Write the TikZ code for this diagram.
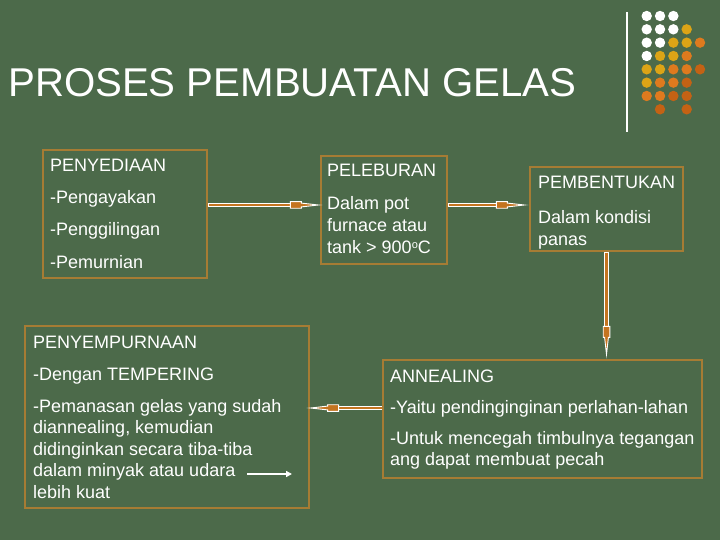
\documentclass[tikz,border=0pt]{standalone}
\usepackage{fontspec}
\setmainfont{Liberation Sans}
\usetikzlibrary{arrows.meta,calc}
\definecolor{bgc}{RGB}{76,106,74}
\definecolor{boxc}{RGB}{166,124,52}
\definecolor{arrc}{RGB}{196,116,32}
\definecolor{dotg}{RGB}{220,164,22}
\definecolor{doto}{RGB}{222,122,30}
\definecolor{dotd}{RGB}{196,98,20}
\tikzset{
  boxnode/.style={draw=boxc, line width=1.2pt, inner sep=0pt, rectangle},
  txt/.style={anchor=base west, inner sep=0pt, text=white, font=\fontsize{18}{21.7}\selectfont},
  shaftout/.style={draw=white, line width=4.4pt},
  shaftin/.style={draw=arrc, line width=2.2pt, shorten <=0.9pt},
  dot/.style={circle, inner sep=0pt, minimum size=10.4pt},
  ahead/.pic={
    \filldraw[fill=arrc, draw=white, line width=0.9pt, line join=miter]
      (-28,-3.3) -- (-17,-3.3) -- (-17,-1.9) -- (0,0) -- (-17,1.9) -- (-17,3.3) -- (-28,3.3) -- cycle;
  }
}
\begin{document}
\begin{tikzpicture}[x=1pt,y=-1pt]
\fill[bgc] (0,0) rectangle (720,540);
\useasboundingbox (0,0) rectangle (720,540);

% title
\node[anchor=base west, inner sep=0pt, text=white, font=\fontsize{40.2}{48}\selectfont] (title) at (8,97) {PROSES PEMBUATAN GELAS};

% decoration line
\coordinate (vl1) at (627,12);
\coordinate (vl2) at (627,132);
\draw[white, line width=1.2pt] (vl1) -- (vl2);

% dots
\foreach \i/\j/\c [count=\k] in {0/0/white,1/0/white,2/0/white,
  0/1/white,1/1/white,2/1/white,3/1/dotg,
  0/2/white,1/2/white,2/2/dotg,3/2/dotg,4/2/doto,
  0/3/white,1/3/dotg,2/3/dotg,3/3/doto,
  0/4/dotg,1/4/dotg,2/4/doto,3/4/doto,4/4/dotd,
  0/5/dotg,1/5/doto,2/5/doto,3/5/dotd,
  0/6/doto,1/6/doto,2/6/dotd,3/6/dotd,
  1/7/dotd,3/7/dotd}
  \node[dot, fill=\c] (dot\k) at ({646.7+13.33*\i},{16+13.33*\j}) {};

% boxes
\node[boxnode, minimum width=164pt, minimum height=128pt] (b1) at (125,214) {};
\node[boxnode, minimum width=126pt, minimum height=108pt] (b2) at (384,210) {};
\node[boxnode, minimum width=153pt, minimum height=84pt] (b3) at (606.5,209) {};
\node[boxnode, minimum width=284pt, minimum height=182pt] (b4) at (167,417) {};
\node[boxnode, minimum width=319pt, minimum height=118pt] (b5) at (542.5,419) {};

% box 1 text
\node[txt] (t11) at (50,172) {PENYEDIAAN};
\node[txt] (t12) at (50,204) {-Pengayakan};
\node[txt] (t13) at (50,236) {-Penggilingan};
\node[txt] (t14) at (50,268) {-Pemurnian};

% box 2 text
\node[txt] (t21) at (327,177) {PELEBURAN};
\node[txt] (t22) at (327,210) {Dalam pot};
\node[txt] (t23) at (327,231.5) {furnace atau};
\node[txt] (t24) at (327,253) {tank > 900\raisebox{5pt}{\fontsize{11}{12}\selectfont o}C};

% box 3 text
\node[txt] (t31) at (538,189) {PEMBENTUKAN};
\node[txt] (t32) at (538,224) {Dalam kondisi};
\node[txt] (t33) at (538,245.5) {panas};

% box 4 text
\node[txt] (t41) at (33,348) {PENYEMPURNAAN};
\node[txt] (t42) at (33,380) {-Dengan TEMPERING};
\node[txt] (t43) at (33,412) {-Pemanasan gelas yang sudah};
\node[txt] (t44) at (33,433.5) {diannealing, kemudian};
\node[txt] (t45) at (33,455) {didinginkan secara tiba-tiba};
\node[txt] (t46) at (33,476.5) {dalam minyak atau udara};
\node[txt] (t47) at (33,498) {lebih kuat};

% box 5 text
\node[txt] (t51) at (390,382) {ANNEALING};
\node[txt] (t52) at (390,413) {-Yaitu pendinginginan perlahan-lahan};
\node[txt] (t53) at (390,444) {-Untuk mencegah timbulnya tegangan};
\node[txt] (t54) at (390,465.5) {ang dapat membuat pecah};

% small white arrow
\coordinate (sa1) at (247,474);
\coordinate (sa2) at (292,474);
\draw[white, line width=1.6pt, -{Triangle[length=6pt,width=6pt]}] (sa1) -- (sa2);

% flow arrow end points
\coordinate (a1s) at (b1.east |- 0,205);
\coordinate (a1e) at ($(b2.west |- 0,205)+(-2,0)$);
\coordinate (a2s) at (b2.east |- 0,205);
\coordinate (a2e) at ($(b3.west |- 0,205)+(-5,0)$);
\coordinate (a3s) at (b3.south);
\coordinate (a3e) at ($(b3.south |- b5.north)+(0,-5)$);
\coordinate (a4s) at (b5.west |- 0,408);
\coordinate (a4e) at ($(b4.east |- 0,408)+(1,0)$);

% shafts
\foreach \s in {shaftout,shaftin}{
  \draw[\s] (a1s) -- ($(a1e)+(-18,0)$);
  \draw[\s] (a2s) -- ($(a2e)+(-18,0)$);
  \draw[\s] (a3s) -- ($(a3e)+(0,-18)$);
  \draw[\s] (a4s) -- ($(a4e)+(18,0)$);
}
% heads
\pic at (a1e) {ahead};
\pic at (a2e) {ahead};
\pic[rotate=-90] at (a3e) {ahead};
\pic[rotate=180] at (a4e) {ahead};
\end{tikzpicture}
\end{document}
